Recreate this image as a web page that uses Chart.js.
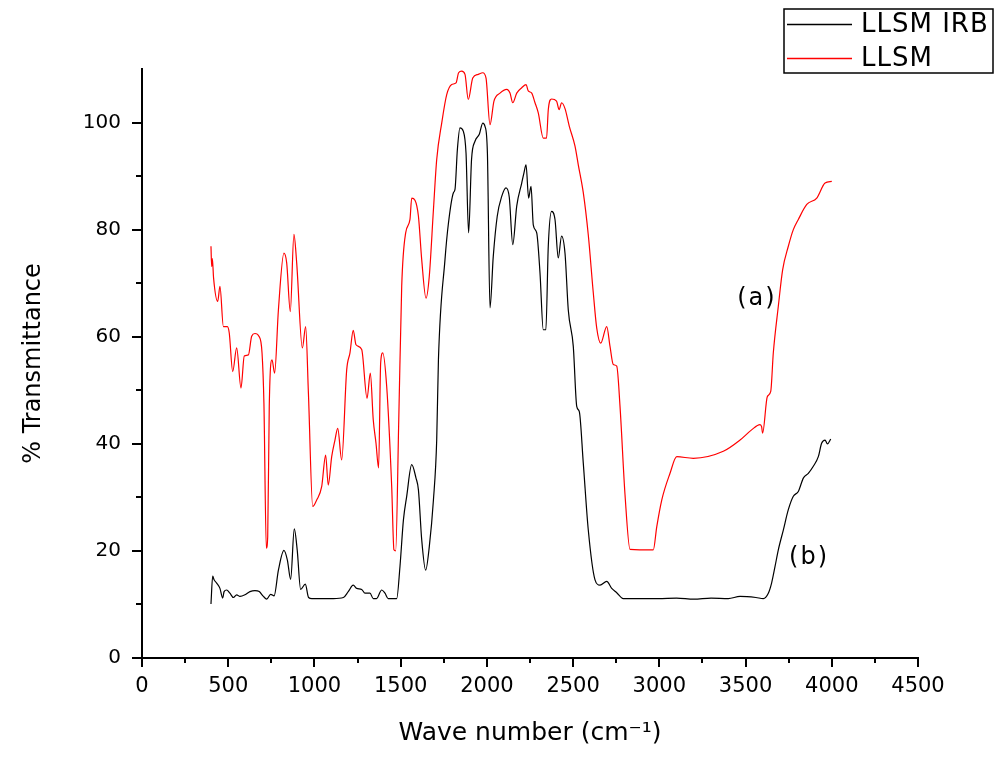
<!DOCTYPE html>
<html>
<head>
<meta charset="utf-8">
<script src="https://cdn.jsdelivr.net/npm/chart.js@4.4.1/dist/chart.umd.min.js"></script>
<style>
html,body{margin:0;padding:0;background:#fff;}
#wrap{width:1003px;height:762px;position:relative;}
</style>
</head>
<body>
<div id="wrap"><canvas id="c" width="1003" height="762"></canvas></div>
<script>
// ---- data ----
const seriesNames = ['LLSM IRB', 'LLSM'];
const curveLabels = ['(b)', '(a)'];

const waveIRB = [400,410,418,433,452,468,476,491,510,530,549,568,597,626,655,680,704,723,746,766,791,823,843,862,883,900,920,947,966,985,1052,1110,1168,1196,1225,1245,1274,1293,1322,1341,1360,1390,1409,1428,1477,1496,1516,1535,1564,1589,1603,1622,1645,1666,1690,1709,1719,1757,1777,1806,1815,1829,1844,1863,1879,1894,1911,1931,1956,1976,1989,2003,2018,2037,2060,2086,2111,2130,2150,2173,2202,2215,2227,2242,2256,2269,2289,2308,2327,2342,2356,2375,2395,2414,2433,2453,2472,2501,2521,2536,2559,2588,2627,2656,2695,2724,2753,2791,2888,2994,3100,3200,3300,3400,3468,3560,3603,3632,3651,3671,3690,3719,3748,3777,3806,3835,3864,3893,3922,3941,3961,3975,3994];
const transIRB = [10.1,15.3,14.6,14,13,11.2,12.4,12.7,12.1,11.3,11.8,11.5,11.8,12.4,12.6,12.4,11.5,11,11.9,11.6,16.4,20.1,18.3,14.7,24.1,20.2,12.8,13.8,11.3,11.1,11.1,11.1,11.3,12.4,13.6,13,12.8,12.1,12.1,11.1,11.1,12.7,12.1,11.1,11.1,17.1,25.8,30.2,36.1,33.6,31.4,22.1,16.4,20.8,29.5,40.7,55.7,74.4,81.2,86.9,87.5,95,99,98.4,94.3,79.4,93.1,96.5,97.8,99.9,99.3,94.3,65.4,75,82.5,86.2,87.8,86,77.2,84.4,88.7,90.6,92.1,85.9,88.1,80.9,79.4,71.9,61.3,61.3,76.9,83.4,81.9,74.7,78.8,75.6,65,58.2,47,46,36.4,23.9,14.6,13.6,14.3,13,12.2,11.1,11.1,11.1,11.2,11,11.2,11.1,11.5,11.3,11.1,12.1,14,17.1,20.2,23.9,27.7,30.2,31.1,33.6,34.5,35.8,37.6,40.1,40.7,40,40.9];

const waveLLSM = [400,404,408,415,439,452,472,495,506,526,549,574,593,617,636,655,678,696,707,721,729,738,754,769,791,823,839,860,881,897,930,949,965,990,1013,1042,1065,1080,1100,1119,1135,1158,1187,1206,1225,1241,1274,1305,1324,1341,1357,1372,1384,1396,1419,1448,1461,1471,1489,1506,1529,1554,1564,1583,1603,1622,1647,1666,1690,1709,1738,1767,1796,1821,1836,1854,1873,1892,1918,1950,1976,1995,2018,2041,2076,2115,2134,2150,2173,2202,2227,2240,2260,2279,2298,2327,2346,2356,2375,2404,2419,2433,2453,2478,2511,2530,2559,2588,2617,2637,2660,2695,2714,2733,2753,2772,2801,2830,2965,2985,3014,3062,3101,3197,3371,3468,3535,3584,3593,3599,3626,3646,3661,3690,3715,3748,3777,3806,3855,3913,3961,4000];
const transLLSM = [76.9,73.1,74.6,71,66.6,69.4,61.9,61.9,60.7,53.5,57.9,50.4,56.4,56.6,60.1,60.6,60.1,57,47.6,20.5,22.7,47,55.7,53.2,65,75.6,73.8,64.7,79.1,73.8,57.9,61.9,49.5,28.3,29.5,32,37.9,32.3,37.6,40.7,42.9,37,53.8,57,61.2,58.5,57.6,48.5,53.2,44.5,40.1,35.5,55.1,57,50.7,32,20.2,20,44.5,69.4,79.4,81.9,85.9,85.5,82.5,74.4,67.2,71.3,83.7,93.1,99.9,105.2,107.1,107.4,109.3,109.6,109,104.3,108.3,109,109.3,108.3,99.6,104,105.5,106.2,105.5,103.7,105.5,106.5,107.1,105.9,105.5,103.7,101.8,97.1,97.1,102.4,104.4,104,102.4,103.7,102.6,99.3,95.6,92.1,86.9,79,68.2,61.6,58.8,61.9,58.2,54.8,54.5,47,30.5,20.3,20.2,24.5,29.5,34.5,37.6,37.3,38.6,40.7,42.6,43.6,43.2,42,48.8,49.8,57,65.7,72.5,76.9,80,81.9,84.7,85.9,88.7,89];

const xMajorTicks = [0,500,1000,1500,2000,2500,3000,3500,4000,4500];
const xMinorTicks = [250,750,1250,1750,2250,2750,3250,3750,4250];
const yMajorTicks = [0,20,40,60,80,100];
const yMinorTicks = [10,30,50,70,90];
// label anchor points in data units
const labelA = {x: 3566, y: 67.1};
const labelB = {x: 3868, y: 18.7};

function pts(xs, ys) { return xs.map((x, i) => ({x: x, y: ys[i]})); }

const tickPlugin = {
  id: 'ticksAndLegend',
  afterDraw(chart) {
    const ctx = chart.ctx;
    const xs = chart.scales.x, ys = chart.scales.y;
    const x0 = xs.getPixelForValue(0);
    const yb = ys.getPixelForValue(0);
    ctx.save();
    ctx.strokeStyle = '#000';
    ctx.lineWidth = 2;
    ctx.beginPath();
    yMajorTicks.forEach(v => { const p = Math.round(ys.getPixelForValue(v)); ctx.moveTo(x0 - 10, p); ctx.lineTo(x0, p); });
    yMinorTicks.forEach(v => { const p = Math.round(ys.getPixelForValue(v)); ctx.moveTo(x0 - 6, p); ctx.lineTo(x0, p); });
    xMajorTicks.forEach(v => { const p = Math.round(xs.getPixelForValue(v)); ctx.moveTo(p, yb); ctx.lineTo(p, yb + 9); });
    xMinorTicks.forEach(v => { const p = Math.round(xs.getPixelForValue(v)); ctx.moveTo(p, yb); ctx.lineTo(p, yb + 5); });
    ctx.stroke();

    // curve labels
    ctx.fillStyle = '#000';
    ctx.font = '24px "DejaVu Sans", sans-serif';
    ctx.textAlign = 'center';
    ctx.textBaseline = 'middle';
    if ('letterSpacing' in ctx) ctx.letterSpacing = '2px';
    ctx.fillText(curveLabels[1], xs.getPixelForValue(labelA.x), ys.getPixelForValue(labelA.y));
    ctx.fillText(curveLabels[0], xs.getPixelForValue(labelB.x), ys.getPixelForValue(labelB.y));

    // legend box
    ctx.lineWidth = 1.5;
    ctx.strokeRect(784, 9, 209, 64);
    const ds = chart.data.datasets;
    const rows = [24.5, 58.5];
    ds.forEach((d, i) => {
      ctx.strokeStyle = d.borderColor;
      ctx.lineWidth = 1.3;
      ctx.beginPath();
      ctx.moveTo(787, rows[i]); ctx.lineTo(852, rows[i]);
      ctx.stroke();
      ctx.fillStyle = '#000';
      ctx.font = '26px "DejaVu Sans", sans-serif';
      ctx.textAlign = 'left';
      if ('letterSpacing' in ctx) ctx.letterSpacing = '1px';
      ctx.fillText(d.label, 861, rows[i] + 1);
    });
    ctx.restore();
  }
};

new Chart(document.getElementById('c'), {
  type: 'scatter',
  data: {
    datasets: [
      {label: seriesNames[0], data: pts(waveIRB, transIRB), showLine: true, borderColor: '#000000', borderWidth: 1.2, pointRadius: 0, cubicInterpolationMode: 'monotone'},
      {label: seriesNames[1], data: pts(waveLLSM, transLLSM), showLine: true, borderColor: '#ff0000', borderWidth: 1.2, pointRadius: 0, cubicInterpolationMode: 'monotone'}
    ]
  },
  options: {
    responsive: false,
    animation: false,
    devicePixelRatio: 1,
    layout: {padding: {left: 0, top: 69, right: 85, bottom: 0}},
    plugins: {legend: {display: false}, tooltip: {enabled: false}},
    scales: {
      x: {
        type: 'linear', min: 0, max: 4500,
        afterFit(s) { s.height = 104; },
        grid: {display: true, drawOnChartArea: false, drawTicks: false},
        border: {display: true, color: '#000', width: 2},
        ticks: {stepSize: 500, padding: 16, color: '#000', maxRotation: 0, autoSkip: false,
          callback: v => String(v),
          font: {family: '"DejaVu Sans", sans-serif', size: 21}},
        title: {display: true, text: 'Wave number (cm\u207B\u00B9)', color: '#000',
          font: {family: '"DejaVu Sans", sans-serif', size: 25}, padding: {top: 0, bottom: 14}}
      },
      y: {
        type: 'linear', min: 0, max: 110,
        afterFit(s) { s.width = 142; },
        grid: {display: true, drawOnChartArea: false, drawTicks: false},
        border: {display: true, color: '#000', width: 2},
        ticks: {stepSize: 20, padding: 21, color: '#000',
          callback: v => (v % 20 === 0 && v <= 100) ? String(v) : '',
          font: {family: '"DejaVu Sans", sans-serif', size: 20}},
        title: {display: true, text: '% Transmittance', color: '#000',
          font: {family: '"DejaVu Sans", sans-serif', size: 24}, padding: {top: 19, bottom: 0}}
      }
    }
  },
  plugins: [tickPlugin]
});
</script>
</body>
</html>
